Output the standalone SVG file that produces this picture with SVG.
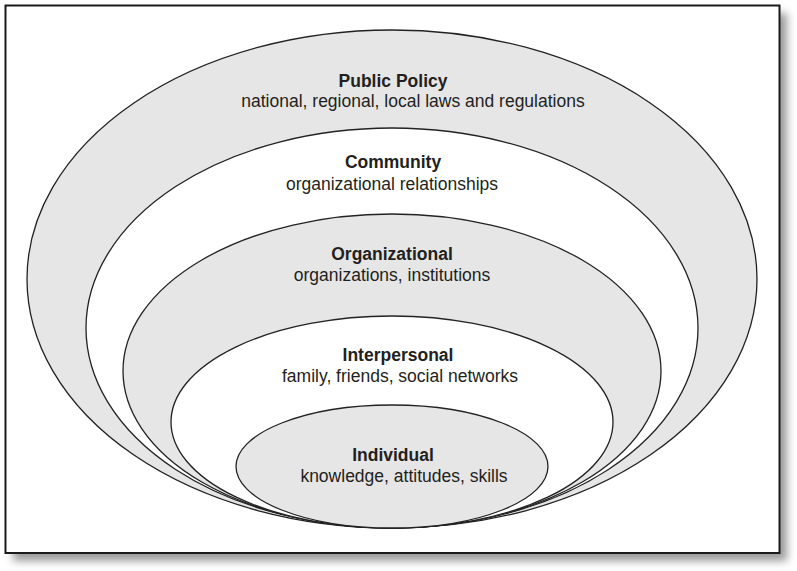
<svg xmlns="http://www.w3.org/2000/svg" width="797" height="571" viewBox="0 0 797 571">
<style>
.g{fill:#e6e6e7;stroke:#222;stroke-width:1.3}
.w{fill:#fff;stroke:#222;stroke-width:1.3}
.t{font-family:"Liberation Sans",Arial,sans-serif;font-size:17.5px;fill:#231f20;text-anchor:middle}
.b{font-weight:bold}
</style>
<defs>
<filter id="sh" x="-10%" y="-10%" width="120%" height="120%">
<feGaussianBlur stdDeviation="4"/>
</filter>
</defs>
<rect width="797" height="571" fill="#fff"/>
<rect x="13" y="13" width="774" height="548" fill="#9a9a9a" filter="url(#sh)"/>
<rect x="5.5" y="5.5" width="774" height="547.5" fill="#fff" stroke="#1a1a1a" stroke-width="2"/>
<g id="public-policy">
<ellipse class="g" cx="392" cy="279" rx="365" ry="249"/>
<text class="t b" x="393" y="86.5">Public Policy</text>
<text class="t" x="413" y="106.5">national, regional, local laws and regulations</text>
</g>
<g id="community">
<ellipse class="w" cx="392" cy="328" rx="306" ry="200"/>
<text class="t b" x="393" y="168">Community</text>
<text class="t" x="392" y="190">organizational relationships</text>
</g>
<g id="organizational">
<ellipse class="g" cx="392" cy="371" rx="269" ry="157"/>
<text class="t b" x="392" y="260">Organizational</text>
<text class="t" x="392" y="281">organizations, institutions</text>
</g>
<g id="interpersonal">
<ellipse class="w" cx="392" cy="422" rx="221" ry="106"/>
<text class="t b" x="398" y="361">Interpersonal</text>
<text class="t" x="400" y="382">family, friends, social networks</text>
</g>
<g id="individual">
<ellipse class="g" cx="392" cy="466.5" rx="156" ry="61.5"/>
<text class="t b" x="393" y="461">Individual</text>
<text class="t" x="404" y="482">knowledge, attitudes, skills</text>
</g>
</svg>
